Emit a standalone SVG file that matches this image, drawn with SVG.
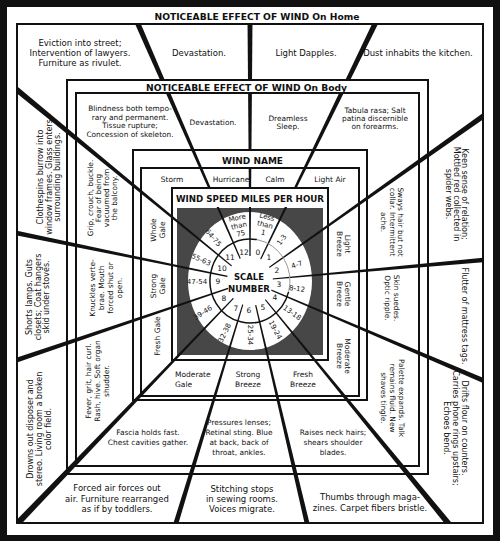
<svg xmlns="http://www.w3.org/2000/svg" width="500" height="541" viewBox="0 0 500 541">
<style>
text{font-family:"DejaVu Sans",sans-serif;fill:#111;text-anchor:middle;dominant-baseline:central}
.t{font-weight:bold;font-size:9.5px}
.h{font-size:8.5px}
.hr{font-size:8px}
.b{font-size:7.4px}
.w{font-size:7.5px}
.s{font-size:7px}
.n{font-size:7.5px}
.box{fill:none;stroke:#111;stroke-width:2}
.spk polygon{fill:#111}
</style>
<defs>
<clipPath id="hc"><rect x="17" y="24" width="466" height="499"/></clipPath>
</defs>
<rect width="500" height="541" fill="#111"/>
<rect x="7" y="7" width="486" height="528" fill="#fff"/>
<g id="wheel-bg">
<rect x="177" y="208" width="146" height="147" fill="#474747"/>
<ellipse cx="250" cy="281" rx="62" ry="69" fill="#fff"/>
</g>
<g id="connectors" class="spk" clip-path="url(#hc)">
<polygon transform="translate(250,281) rotate(-90)" points="0,-0.4 269,-2.55 269,2.55 0,0.4"/>
<polygon transform="translate(250,281) rotate(-64.06)" points="0,-0.4 298,-2.78 298,2.78 0,0.4"/>
<polygon transform="translate(250,281) rotate(-35.26)" points="0,-0.4 296,-2.77 296,2.77 0,0.4"/>
<polygon transform="translate(250,281) rotate(-5.17)" points="0,-0.4 245,-2.36 245,2.36 0,0.4"/>
<polygon transform="translate(250,281) rotate(23.11)" points="0,-0.4 264,-2.51 264,2.51 0,0.4"/>
<polygon transform="translate(250,281) rotate(50.71)" points="0,-0.4 325,-3 325,3 0,0.4"/>
<polygon transform="translate(250,281) rotate(76.75)" points="0,-0.4 261,-2.49 261,2.49 0,0.4"/>
<polygon transform="translate(250,281) rotate(107)" points="0,-0.4 265,-2.52 265,2.52 0,0.4"/>
<polygon transform="translate(250,281) rotate(133.8)" points="0,-0.4 347,-3.18 347,3.18 0,0.4"/>
<polygon transform="translate(250,281) rotate(161.27)" points="0,-0.4 258,-2.46 258,2.46 0,0.4"/>
<polygon transform="translate(250,281) rotate(191.59)" points="0,-0.4 251,-2.41 251,2.41 0,0.4"/>
<polygon transform="translate(250,281) rotate(219.34)" points="0,-0.4 313,-2.9 313,2.9 0,0.4"/>
<polygon transform="translate(250,281) rotate(246.45)" points="0,-0.4 292,-2.74 292,2.74 0,0.4"/>
</g>
<g id="masks" fill="#fff">
<rect x="143" y="81" width="207" height="11.5"/>
<rect x="219" y="151" width="67" height="16"/>
<rect x="173" y="189" width="154" height="18"/>
<ellipse cx="250" cy="281" rx="23" ry="25"/>
</g>
<g id="ring" fill="none">
<path d="M288.6,291.9 A40,42 0 1 1 256.9,239.6" stroke="#111" stroke-width="1.5"/>
<path d="M256.9,239.6 A40,42 0 0 1 288.6,291.9" stroke="#999" stroke-width="1"/>
</g>
<g id="frames">
<rect class="box" x="17" y="24" width="466" height="499"/>
<rect class="box" x="67" y="80" width="361" height="394"/>
<rect class="box" x="76" y="93" width="343" height="373"/>
<rect class="box" x="133" y="150" width="234" height="250"/>
<rect class="box" x="141" y="168" width="218" height="228"/>
<rect class="box" x="172" y="188" width="156" height="172" stroke-width="2.5"/>
</g>
<g id="titles">
<text class="t" x="257" y="16" textLength="205" lengthAdjust="spacingAndGlyphs">NOTICEABLE EFFECT OF WIND On Home</text>
<text class="t" x="246.5" y="87.5" textLength="201" lengthAdjust="spacingAndGlyphs">NOTICEABLE EFFECT OF WIND On Body</text>
<text class="t" x="252.5" y="160" textLength="61" lengthAdjust="spacingAndGlyphs">WIND NAME</text>
<text class="t" x="250" y="198" textLength="148" lengthAdjust="spacingAndGlyphs">WIND SPEED MILES PER HOUR</text>
<text class="t" x="249" y="276" font-size="9" textLength="30" lengthAdjust="spacingAndGlyphs">SCALE</text>
<text class="t" x="249" y="288.5" font-size="9" textLength="42" lengthAdjust="spacingAndGlyphs">NUMBER</text>
</g>
<g id="home-storm"><text class="h" x="80" y="43"><tspan x="80">Eviction into street;</tspan><tspan x="80" dy="10">Intervention of lawyers.</tspan><tspan x="80" dy="10">Furniture as rivulet.</tspan></text></g>
<g id="home-hurricane"><text class="h" x="199" y="53">Devastation.</text></g>
<g id="home-calm"><text class="h" x="306" y="53">Light Dapples.</text></g>
<g id="home-lightair"><text class="h" x="418" y="53">Dust inhabits the kitchen.</text></g>
<g id="home-lightbreeze"><text class="hr" transform="translate(465,194) rotate(90)"><tspan x="0" y="0">Keen sense of relation;</tspan><tspan x="0" dy="8">Mottled red collected in</tspan><tspan x="0" dy="8">spider webs.</tspan></text></g>
<g id="home-gentlebreeze"><text class="hr" transform="translate(464,316) rotate(90)">Flutter of mattress tags.</text></g>
<g id="home-moderatebreeze"><text class="hr" transform="translate(465,428) rotate(90)"><tspan x="0" y="0">Drifts flour on counters.</tspan><tspan x="0" dy="9">Carries phone rings upstairs;</tspan><tspan x="0" dy="9">Echoes bend.</tspan></text></g>
<g id="home-freshbreeze"><text class="h" x="370" y="497"><tspan x="370">Thumbs through maga-</tspan><tspan x="370" dy="11">zines. Carpet fibers bristle.</tspan></text></g>
<g id="home-strongbreeze"><text class="h" x="242" y="489"><tspan x="242">Stitching stops</tspan><tspan x="242" dy="10">in sewing rooms.</tspan><tspan x="242" dy="10">Voices migrate.</tspan></text></g>
<g id="home-moderategale"><text class="h" x="117" y="488"><tspan x="117">Forced air forces out</tspan><tspan x="117" dy="10.5">air. Furniture rearranged</tspan><tspan x="117" dy="10.5">as if by toddlers.</tspan></text></g>
<g id="home-freshgale"><text class="hr" transform="translate(30,429) rotate(-90)"><tspan x="0" y="0">Drowns out disposer and</tspan><tspan x="0" dy="9">stereo. Living room a broken</tspan><tspan x="0" dy="9">color field.</tspan></text></g>
<g id="home-stronggale"><text class="hr" transform="translate(29,297) rotate(-90)"><tspan x="0" y="0">Shorts lamps. Guts</tspan><tspan x="0" dy="8.5">closets; Coat hangers</tspan><tspan x="0" dy="8.5">skid under stoves.</tspan></text></g>
<g id="home-wholegale"><text class="hr" transform="translate(40,177) rotate(-90)"><tspan x="0" y="0">Clothespins burrow into</tspan><tspan x="0" dy="8.5">window frames. Glass enters</tspan><tspan x="0" dy="8.5">surrounding buildings.</tspan></text></g>
<g id="body-storm"><text class="b" x="130" y="108"><tspan x="130">Blindness both tempo-</tspan><tspan x="130" dy="8.5">rary and permanent.</tspan><tspan x="130" dy="8.5">Tissue rupture;</tspan><tspan x="130" dy="8.5">Concession of skeleton.</tspan></text></g>
<g id="body-hurricane"><text class="b" x="213" y="122">Devastation.</text></g>
<g id="body-calm"><text class="b" x="288" y="118"><tspan x="288">Dreamless</tspan><tspan x="288" dy="7.5">Sleep.</tspan></text></g>
<g id="body-lightair"><text class="b" x="375" y="110"><tspan x="375">Tabula rasa; Salt</tspan><tspan x="375" dy="8">patina discernible</tspan><tspan x="375" dy="8">on forearms.</tspan></text></g>
<g id="body-lightbreeze"><text class="b" transform="translate(401,222) rotate(90)"><tspan x="0" y="0">Sways hair but not</tspan><tspan x="0" dy="8.5">collar. Intermittent</tspan><tspan x="0" dy="8.5">ache.</tspan></text></g>
<g id="body-gentlebreeze"><text class="b" transform="translate(397,298) rotate(90)"><tspan x="0" y="0">Skin suedes.</tspan><tspan x="0" dy="9">Optic ripple.</tspan></text></g>
<g id="body-moderatebreeze"><text class="b" transform="translate(402,398) rotate(90)"><tspan x="0" y="0">Palette expands. Talk</tspan><tspan x="0" dy="9">remains fluid. New</tspan><tspan x="0" dy="9">shaves tingle.</tspan></text></g>
<g id="body-freshbreeze"><text class="b" x="333" y="432"><tspan x="333">Raises neck hairs;</tspan><tspan x="333" dy="10">shears shoulder</tspan><tspan x="333" dy="9.5">blades.</tspan></text></g>
<g id="body-strongbreeze"><text class="b" x="239" y="422"><tspan x="239">Pressures lenses;</tspan><tspan x="239" dy="10">Retinal sting. Blue</tspan><tspan x="239" dy="10">at back, back of</tspan><tspan x="239" dy="9.5">throat, ankles.</tspan></text></g>
<g id="body-moderategale"><text class="b" x="148" y="432"><tspan x="148">Fascia holds fast.</tspan><tspan x="148" dy="10">Chest cavities gather.</tspan></text></g>
<g id="body-freshgale"><text class="b" transform="translate(88,381) rotate(-90)"><tspan x="0" y="0">Fever, grit, hair curl.</tspan><tspan x="0" dy="9">Rash, hive. Soft organ</tspan><tspan x="0" dy="9">shudder.</tspan></text></g>
<g id="body-stronggale"><text class="b" transform="translate(92,288) rotate(-90)"><tspan x="0" y="0">Knuckles verte-</tspan><tspan x="0" dy="9">brae. Mouth</tspan><tspan x="0" dy="9">forced shut or</tspan><tspan x="0" dy="9">open.</tspan></text></g>
<g id="body-wholegale"><text class="b" transform="translate(90,198) rotate(-90)"><tspan x="0" y="0">Grip, crouch, buckle.</tspan><tspan x="0" dy="8">Fear of being</tspan><tspan x="0" dy="8">vacuumed from</tspan><tspan x="0" dy="8">the balcony.</tspan></text></g>
<g id="wind-names">
<text class="w" x="172" y="179">Storm</text>
<text class="w" x="231" y="179">Hurricane</text>
<text class="w" x="275" y="179">Calm</text>
<text class="w" x="330" y="179">Light Air</text>
<text class="w" transform="translate(348,244) rotate(90)"><tspan x="0" y="0">Light</tspan><tspan x="0" dy="8">Breeze</tspan></text>
<text class="w" transform="translate(348,294) rotate(90)"><tspan x="0" y="0">Gentle</tspan><tspan x="0" dy="8">Breeze</tspan></text>
<text class="w" transform="translate(348,356) rotate(90)"><tspan x="0" y="0">Moderate</tspan><tspan x="0" dy="8">Breeze</tspan></text>
<text class="w" x="303" y="374"><tspan x="303">Fresh</tspan><tspan x="303" dy="10">Breeze</tspan></text>
<text class="w" x="248" y="374"><tspan x="248">Strong</tspan><tspan x="248" dy="10">Breeze</tspan></text>
<text class="w" x="175" y="374" style="text-anchor:start"><tspan x="175">Moderate</tspan><tspan x="175" dy="10">Gale</tspan></text>
<text class="w" transform="translate(157,336) rotate(-90)">Fresh Gale</text>
<text class="w" transform="translate(153,286) rotate(-90)"><tspan x="0" y="0">Strong</tspan><tspan x="0" dy="9">Gale</tspan></text>
<text class="w" transform="translate(153,230) rotate(-90)"><tspan x="0" y="0">Whole</tspan><tspan x="0" dy="9">Gale</tspan></text>
</g>
<g id="speeds">
<text class="s" transform="translate(239,226) rotate(-13)"><tspan x="0" y="-8">More</tspan><tspan x="0" dy="8">than</tspan><tspan x="0" dy="8">75</tspan></text>
<text class="s" transform="translate(265,225) rotate(14)"><tspan x="0" y="-8">Less</tspan><tspan x="0" dy="8">than</tspan><tspan x="0" dy="8">1</tspan></text>
<text class="s" transform="translate(282,240) rotate(-53)">1-3</text>
<text class="s" transform="translate(297,265) rotate(-20)">4-7</text>
<text class="s" transform="translate(297,289) rotate(8)">8-12</text>
<text class="s" transform="translate(292,313) rotate(36)">13-18</text>
<text class="s" transform="translate(275,330) rotate(62)">19-24</text>
<text class="s" transform="translate(250,335) rotate(90)">25-34</text>
<text class="s" transform="translate(225,333) rotate(-64)">32-38</text>
<text class="s" transform="translate(203,313) rotate(-33)">39-46</text>
<text class="s" transform="translate(197,282)">47-54</text>
<text class="s" transform="translate(201,260) rotate(24)">55-63</text>
<text class="s" transform="translate(213,238) rotate(50)">64-75</text>
</g>
<g id="scale-numbers">
<text class="n" x="244" y="252">12</text>
<text class="n" x="258" y="252">0</text>
<text class="n" x="230" y="257">11</text>
<text class="n" x="269" y="257">1</text>
<text class="n" x="222" y="268">10</text>
<text class="n" x="277" y="270">2</text>
<text class="n" x="218" y="281">9</text>
<text class="n" x="279" y="284">3</text>
<text class="n" x="224" y="298">8</text>
<text class="n" x="275" y="297">4</text>
<text class="n" x="236" y="308">7</text>
<text class="n" x="249" y="310">6</text>
<text class="n" x="263" y="307">5</text>
</g>
</svg>
